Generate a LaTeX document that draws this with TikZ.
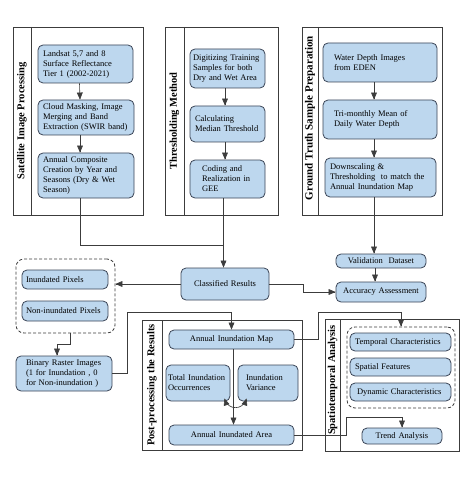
\documentclass[tikz,border=0pt]{standalone}
\usepackage[usenames,dvipsnames]{xcolor}
\usepackage{fontspec}
\setmainfont{Liberation Serif}
\usepackage{tikz}
\usetikzlibrary{shapes,arrows,positioning}

\definecolor{boxFill}{RGB}{189,215,238}
\definecolor{boxEdge}{RGB}{58,68,86}
\definecolor{lineColor}{RGB}{60,60,60}
\tikzset{
  blk/.style={draw=boxEdge, fill=boxFill, rounded corners=5pt, line width=0.8pt, inner xsep=5pt, inner ysep=1pt, align=left, font=\fontsize{8.5}{10}\selectfont},
  pnl/.style={draw=lineColor, line width=0.8pt},
  grp/.style={draw=lineColor, densely dashed, rounded corners=8pt, line width=0.8pt, inner sep=0pt},
  ttl/.style={rotate=90, font=\fontsize{10.5}{12}\selectfont\bfseries},
  arr/.style={->, >=triangle 45, draw=lineColor, line width=0.6pt},
  lnk/.style={draw=lineColor, line width=0.6pt}
}

\begin{document}
\begin{tikzpicture}[x=1pt,y=-1pt]
\useasboundingbox (0,0) rectangle (474,481);
% panels
\draw[pnl] (13,27) rectangle (143,215);
\draw[pnl] (31,27) -- (31,215);
\node[ttl] (satTtl) at (22,121) {Satellite Image Processing};
\draw[pnl] (165,27) rectangle (278,215);
\draw[pnl] (184,27) -- (184,215);
\node[ttl] (thrTtl) at (174.5,121) {Thresholding Method};
\draw[pnl] (302,27) rectangle (442,215);
\draw[pnl] (318,27) -- (318,215);
\node[ttl, font=\fontsize{11}{12}\selectfont\bfseries] (gtTtl) at (310,118) {Ground Truth Sample Preparation};
\draw[pnl] (142,320) rectangle (302,450);
\draw[pnl] (162,320) -- (162,450);
\node[ttl] (postTtl) at (152,385) {Post-processing the Results};
\draw[pnl] (325,319) rectangle (459,451);
\draw[pnl] (340,319) -- (340,451);
\node[ttl] (spatTtl) at (332.5,380) {Spatiotemporal Analysis};
% satellite
\node[blk, text width=85, minimum height=38] (sat1) at (85.5,64) {Landsat 5,7 and 8\\Surface Reflectance\\Tier 1 (2002-2021)};
\node[blk, text width=86, minimum height=35] (sat2) at (86,117.5) {Cloud Masking, Image\\Merging and Band\\Extraction (SWIR band)};
\node[blk, text width=86, minimum height=45] (sat3) at (86,175.5) {Annual Composite\\Creation by Year and\\Seasons (Dry \& Wet\\Season)};
% thresholding
\node[blk, inner xsep=3pt, text width=69, minimum height=39] (thr1) at (227.5,68.5) {Digitizing Training\\Samples for both\\Dry and Wet Area};
\node[blk, text width=65, minimum height=36] (thr2) at (227.5,124) {Calculating\\Median Threshold};
\node[blk, inner xsep=12pt, text width=51, minimum height=38] (thr3) at (227.5,179) {Coding and\\Realization in\\GEE};
% ground truth
\node[blk, inner xsep=11pt, text width=92, minimum height=39] (gt1) at (380,62.5) {Water Depth Images\\from EDEN};
\node[blk, inner xsep=11pt, text width=92, minimum height=39] (gt2) at (380,119.5) {Tri-monthly Mean of\\Daily Water Depth};
\node[blk, text width=101, minimum height=39] (gt3) at (380.5,177.5) {Downscaling \&\\Thresholding\ \ to match the\\Annual Inundation Map};
\node[blk, align=center, text width=80, minimum height=14] (val) at (381,261) {Validation\ \ Dataset};
\node[blk, align=center, text width=80, minimum height=20] (acc) at (381,292) {Accuracy Assessment};
% classification
\node[blk, align=center, text width=78, minimum height=32] (cls) at (225,284) {Classified Results};
\node[grp, minimum width=99, minimum height=74] (pix) at (65.5,296) {};
\node[blk, inner xsep=4pt, text width=78, minimum height=19] (inu) at (65,279.5) {Inundated Pixels};
\node[blk, inner xsep=4pt, text width=78, minimum height=20] (ninu) at (65,311) {Non-inundated Pixels};
\node[blk, inner xsep=10pt, text width=76, minimum height=35] (bin) at (64,373.5) {Binary Raster Images\\(1 for Inundation , 0\\for Non-inundation )};
% post-processing
\node[blk, align=center, text width=115, minimum height=19] (aim) at (231.5,339.5) {Annual Inundation Map};
\node[blk, inner xsep=2pt, text width=60, minimum height=36] (tio) at (198,383) {Total Inundation\\Occurrences};
\node[blk, inner xsep=8pt, text width=44, minimum height=36] (ivar) at (268,383) {Inundation\\Variance};
\node[blk, align=center, text width=115, minimum height=20] (aia) at (231.5,435) {Annual Inundated Area};
% spatiotemporal
\node[grp, minimum width=108, minimum height=81] (spg) at (401,367.5) {};
\node[blk, text width=91, minimum height=18] (tmp) at (400.5,342) {Temporal Characteristics};
\node[blk, text width=91, minimum height=18] (spf) at (400.5,367) {Spatial Features};
\node[blk, inner xsep=7pt, text width=87, minimum height=18] (dyn) at (400.5,392) {Dynamic Characteristics};
\node[blk, align=center, text width=70, minimum height=16] (trd) at (402,436) {Trend Analysis};
% connectors
\coordinate (jn) at (223.5,245);
\draw[arr] ([xshift=-6]sat1.south) -- ([xshift=-6]sat2.north);
\draw[arr] ([xshift=-6]sat2.south) -- ([xshift=-6]sat3.north);
\draw[lnk] ([xshift=-6]sat3.south) |- (jn);
\draw[arr] ([xshift=-2.5]thr1.south) -- ([xshift=-2.5]thr2.north);
\draw[arr] ([xshift=-2.5]thr2.south) -- ([xshift=-2.5]thr3.north);
\draw[arr] ([xshift=-4]thr3.south) -- ([xshift=-4]thr3.south |- cls.north);
\draw[arr] ([xshift=-6]gt1.south) -- ([xshift=-6]gt2.north);
\draw[arr] ([xshift=-6]gt2.south) -- ([xshift=-6]gt2.south |- gt3.north);
\draw[arr] ([xshift=-6.5]gt3.south) -- ([xshift=-6.5]gt3.south |- val.north);
\draw[arr] ([xshift=-6]val.south) -- ([xshift=-6]acc.north);
\draw[arr] (cls.east) -- ++(34,0) |- (acc.west);
\draw[arr] (cls.west) -- (cls.west -| pix.east);
\draw[arr] ([xshift=4.5]pix.south) -- ++(0,11) -| ([xshift=-7]bin.north);
\draw[arr] (bin.east) -- ++(15,0) |- ([yshift=17]aim.north) -- (aim.north);
\draw[arr] ([xshift=2]aim.south) -- ([xshift=2]aia.north);
\draw[lnk, <->, >=triangle 45] ([xshift=-6,yshift=3]tio.south east) .. controls +(4,12) and +(-4,12) .. ([xshift=9,yshift=3]ivar.south west);
\draw[arr] (aim.east) -- ++(24,0) |- ([yshift=14]spg.north) -- (spg.north);
\draw[arr] (aia.east) -- ++(52,0) |- ([yshift=10]trd.north) -- (trd.north);
\end{tikzpicture}
\end{document}
